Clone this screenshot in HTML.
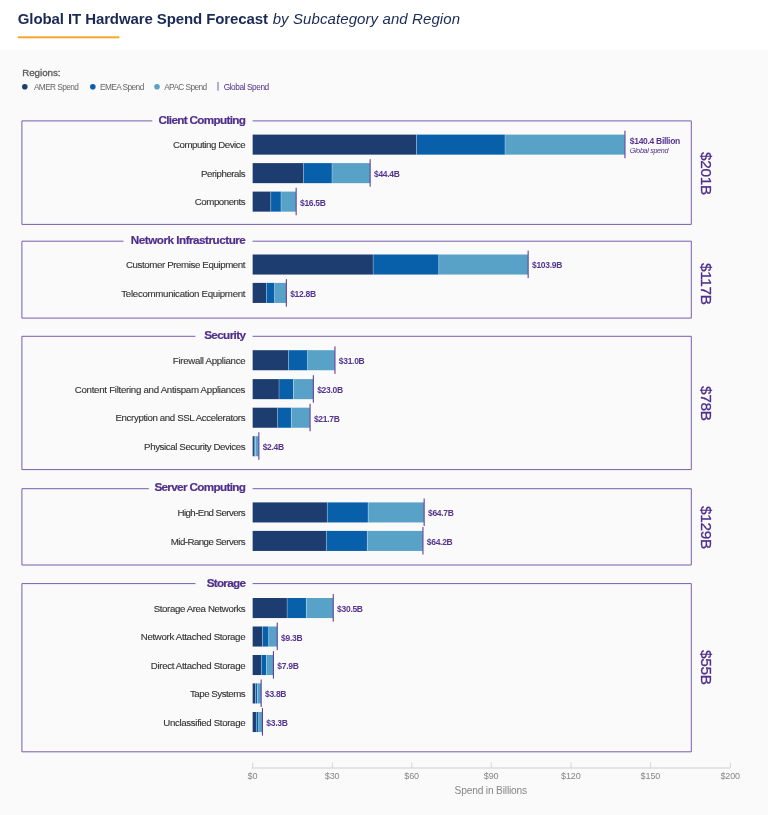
<!DOCTYPE html>
<html lang="en"><head><meta charset="utf-8"><title>Global IT Hardware Spend Forecast</title>
<style>
*{margin:0;padding:0;box-sizing:border-box}
html,body{width:768px;height:815px;overflow:hidden;background:#fafafa;font-family:"Liberation Sans",sans-serif}
body{filter:blur(0.35px)}
.hdr{position:absolute;left:0;top:0;width:768px;height:49px;background:#fff}
.a{position:absolute;white-space:pre;line-height:1}
.sv{position:absolute;left:0;top:0}
.title{top:10.4px;font-size:15px;color:#1b2a55;line-height:18px}
.ul{position:absolute;left:18px;top:36px;width:101.5px;height:2px;background:#f5a623}
.reg{font-size:9.8px;color:#5a5a5a;-webkit-text-stroke:0.3px #5a5a5a}
.lg{font-size:8.3px;color:#666}
.dot{position:absolute;width:5.8px;height:5.8px;border-radius:50%;top:83.9px}
.box{position:absolute;left:21.5px;width:670.3px;border:1px solid #765eab;border-top:none}
.ln{position:absolute;height:1px;background:#765eab}
.gt{font-weight:bold;font-size:11.7px;color:#4f2f8b;-webkit-text-stroke:0.2px #4f2f8b}
.rl{font-size:9.7px;color:#333;-webkit-text-stroke:0.12px #333}
.seg{position:absolute;height:20.05px}
.mk{position:absolute;width:1.1px;background:#6445a0}
.vl{font-weight:bold;font-size:8.5px;color:#553591}
.gs{font-style:italic;font-size:7.2px;color:#4f2f8b}
.tot{font-size:15.4px;color:#4f2f8b;line-height:15px;transform-origin:0 0;transform:rotate(90deg);letter-spacing:-0.33px;-webkit-text-stroke:0.3px #4f2f8b}
.ax{position:absolute;background:#c9c9c9}
.tl{font-size:9px;color:#868686;width:40px;text-align:center;top:772.40px;letter-spacing:-0.1px}
.axt{font-size:10.2px;color:#868686}
</style></head>
<body>
<div class="hdr"></div>
<svg class="sv" width="768" height="815" viewBox="0 0 768 815"><rect x="0" y="48" width="768" height="1.5" fill="#fff"/><rect x="17.8" y="36.3" width="101.6" height="2" fill="#f7a72a"/><circle cx="24.8" cy="86.8" r="2.8" fill="#1d3c70"/><circle cx="92.8" cy="86.8" r="2.8" fill="#0860ab"/><circle cx="157.0" cy="86.8" r="2.8" fill="#58a2c8"/><rect x="217.5" y="82" width="1" height="8.7" fill="#765eab"/><path d="M152.3 120.9H21.9V224.4H691.3V120.9H252.6" fill="none" stroke="#765eab" stroke-width="1"/><rect x="252.65" y="134.6" width="163.85" height="20.05" fill="#1d3c70"/><rect x="416.50" y="134.6" width="88.50" height="20.05" fill="#0860ab"/><rect x="505.00" y="134.6" width="119.80" height="20.05" fill="#58a2c8"/><rect x="416.20" y="134.6" width="0.6" height="20.05" fill="#fff" fill-opacity=".5"/><rect x="504.70" y="134.6" width="0.6" height="20.05" fill="#fff" fill-opacity=".5"/><rect x="624.40" y="130.7" width="1.1" height="27.5" fill="#5f3f9c"/><rect x="252.65" y="163.1" width="50.95" height="20.05" fill="#1d3c70"/><rect x="303.60" y="163.1" width="28.40" height="20.05" fill="#0860ab"/><rect x="332.00" y="163.1" width="38.00" height="20.05" fill="#58a2c8"/><rect x="303.30" y="163.1" width="0.6" height="20.05" fill="#fff" fill-opacity=".5"/><rect x="331.70" y="163.1" width="0.6" height="20.05" fill="#fff" fill-opacity=".5"/><rect x="369.60" y="159.2" width="1.1" height="27.5" fill="#5f3f9c"/><rect x="252.65" y="191.6" width="18.15" height="20.05" fill="#1d3c70"/><rect x="270.80" y="191.6" width="10.20" height="20.05" fill="#0860ab"/><rect x="281.00" y="191.6" width="15.00" height="20.05" fill="#58a2c8"/><rect x="270.50" y="191.6" width="0.6" height="20.05" fill="#fff" fill-opacity=".5"/><rect x="280.70" y="191.6" width="0.6" height="20.05" fill="#fff" fill-opacity=".5"/><rect x="295.60" y="187.7" width="1.1" height="27.5" fill="#5f3f9c"/><path d="M123.5 241.2H21.9V318.1H691.3V241.2H252.6" fill="none" stroke="#765eab" stroke-width="1"/><rect x="252.65" y="254.5" width="120.45" height="20.05" fill="#1d3c70"/><rect x="373.10" y="254.5" width="65.70" height="20.05" fill="#0860ab"/><rect x="438.80" y="254.5" width="89.20" height="20.05" fill="#58a2c8"/><rect x="372.80" y="254.5" width="0.6" height="20.05" fill="#fff" fill-opacity=".5"/><rect x="438.50" y="254.5" width="0.6" height="20.05" fill="#fff" fill-opacity=".5"/><rect x="527.60" y="250.6" width="1.1" height="27.5" fill="#5f3f9c"/><rect x="252.65" y="282.9" width="13.65" height="20.05" fill="#1d3c70"/><rect x="266.30" y="282.9" width="8.40" height="20.05" fill="#0860ab"/><rect x="274.70" y="282.9" width="11.50" height="20.05" fill="#58a2c8"/><rect x="266.00" y="282.9" width="0.6" height="20.05" fill="#fff" fill-opacity=".5"/><rect x="274.40" y="282.9" width="0.6" height="20.05" fill="#fff" fill-opacity=".5"/><rect x="285.80" y="279.1" width="1.1" height="27.5" fill="#5f3f9c"/><path d="M195.4 336.3H21.9V469.6H691.3V336.3H252.6" fill="none" stroke="#765eab" stroke-width="1"/><rect x="252.65" y="350.2" width="35.65" height="20.05" fill="#1d3c70"/><rect x="288.30" y="350.2" width="19.40" height="20.05" fill="#0860ab"/><rect x="307.70" y="350.2" width="27.10" height="20.05" fill="#58a2c8"/><rect x="288.00" y="350.2" width="0.6" height="20.05" fill="#fff" fill-opacity=".5"/><rect x="307.40" y="350.2" width="0.6" height="20.05" fill="#fff" fill-opacity=".5"/><rect x="334.40" y="346.4" width="1.1" height="27.5" fill="#5f3f9c"/><rect x="252.65" y="379.1" width="26.35" height="20.05" fill="#1d3c70"/><rect x="279.00" y="379.1" width="14.30" height="20.05" fill="#0860ab"/><rect x="293.30" y="379.1" width="19.90" height="20.05" fill="#58a2c8"/><rect x="278.70" y="379.1" width="0.6" height="20.05" fill="#fff" fill-opacity=".5"/><rect x="293.00" y="379.1" width="0.6" height="20.05" fill="#fff" fill-opacity=".5"/><rect x="312.80" y="375.2" width="1.1" height="27.5" fill="#5f3f9c"/><rect x="252.65" y="407.7" width="25.05" height="20.05" fill="#1d3c70"/><rect x="277.70" y="407.7" width="13.55" height="20.05" fill="#0860ab"/><rect x="291.25" y="407.7" width="18.65" height="20.05" fill="#58a2c8"/><rect x="277.40" y="407.7" width="0.6" height="20.05" fill="#fff" fill-opacity=".5"/><rect x="290.95" y="407.7" width="0.6" height="20.05" fill="#fff" fill-opacity=".5"/><rect x="309.50" y="403.8" width="1.1" height="27.5" fill="#5f3f9c"/><rect x="252.65" y="436.2" width="1.55" height="20.05" fill="#1d3c70"/><rect x="254.20" y="436.2" width="1.10" height="20.05" fill="#0860ab"/><rect x="255.30" y="436.2" width="3.40" height="20.05" fill="#58a2c8"/><rect x="253.90" y="436.2" width="0.6" height="20.05" fill="#fff" fill-opacity=".5"/><rect x="255.00" y="436.2" width="0.6" height="20.05" fill="#fff" fill-opacity=".5"/><rect x="258.30" y="432.3" width="1.1" height="27.5" fill="#5f3f9c"/><path d="M148.8 488.7H21.9V565.0H691.3V488.7H252.6" fill="none" stroke="#765eab" stroke-width="1"/><rect x="252.65" y="502.4" width="74.55" height="20.05" fill="#1d3c70"/><rect x="327.20" y="502.4" width="40.90" height="20.05" fill="#0860ab"/><rect x="368.10" y="502.4" width="55.90" height="20.05" fill="#58a2c8"/><rect x="326.90" y="502.4" width="0.6" height="20.05" fill="#fff" fill-opacity=".5"/><rect x="367.80" y="502.4" width="0.6" height="20.05" fill="#fff" fill-opacity=".5"/><rect x="423.60" y="498.5" width="1.1" height="27.5" fill="#5f3f9c"/><rect x="252.65" y="530.9" width="73.60" height="20.05" fill="#1d3c70"/><rect x="326.25" y="530.9" width="40.95" height="20.05" fill="#0860ab"/><rect x="367.20" y="530.9" width="55.60" height="20.05" fill="#58a2c8"/><rect x="325.95" y="530.9" width="0.6" height="20.05" fill="#fff" fill-opacity=".5"/><rect x="366.90" y="530.9" width="0.6" height="20.05" fill="#fff" fill-opacity=".5"/><rect x="422.40" y="527.0" width="1.1" height="27.5" fill="#5f3f9c"/><path d="M195.4 583.6H21.9V751.8H691.3V583.6H252.6" fill="none" stroke="#765eab" stroke-width="1"/><rect x="252.65" y="598.0" width="34.45" height="20.05" fill="#1d3c70"/><rect x="287.10" y="598.0" width="19.15" height="20.05" fill="#0860ab"/><rect x="306.25" y="598.0" width="26.85" height="20.05" fill="#58a2c8"/><rect x="286.80" y="598.0" width="0.6" height="20.05" fill="#fff" fill-opacity=".5"/><rect x="305.95" y="598.0" width="0.6" height="20.05" fill="#fff" fill-opacity=".5"/><rect x="332.70" y="594.1" width="1.1" height="27.5" fill="#5f3f9c"/><rect x="252.65" y="626.5" width="9.85" height="20.05" fill="#1d3c70"/><rect x="262.50" y="626.5" width="6.25" height="20.05" fill="#0860ab"/><rect x="268.75" y="626.5" width="8.35" height="20.05" fill="#58a2c8"/><rect x="262.20" y="626.5" width="0.6" height="20.05" fill="#fff" fill-opacity=".5"/><rect x="268.45" y="626.5" width="0.6" height="20.05" fill="#fff" fill-opacity=".5"/><rect x="276.70" y="622.6" width="1.1" height="27.5" fill="#5f3f9c"/><rect x="252.65" y="655.0" width="8.60" height="20.05" fill="#1d3c70"/><rect x="261.25" y="655.0" width="5.25" height="20.05" fill="#0860ab"/><rect x="266.50" y="655.0" width="6.80" height="20.05" fill="#58a2c8"/><rect x="260.95" y="655.0" width="0.6" height="20.05" fill="#fff" fill-opacity=".5"/><rect x="266.20" y="655.0" width="0.6" height="20.05" fill="#fff" fill-opacity=".5"/><rect x="272.90" y="651.1" width="1.1" height="27.5" fill="#5f3f9c"/><rect x="252.65" y="683.4" width="2.75" height="20.05" fill="#1d3c70"/><rect x="255.40" y="683.4" width="2.10" height="20.05" fill="#0860ab"/><rect x="257.50" y="683.4" width="3.50" height="20.05" fill="#58a2c8"/><rect x="255.10" y="683.4" width="0.6" height="20.05" fill="#fff" fill-opacity=".5"/><rect x="257.20" y="683.4" width="0.6" height="20.05" fill="#fff" fill-opacity=".5"/><rect x="260.60" y="679.5" width="1.1" height="27.5" fill="#5f3f9c"/><rect x="252.65" y="712.0" width="3.60" height="20.05" fill="#1d3c70"/><rect x="256.25" y="712.0" width="2.50" height="20.05" fill="#0860ab"/><rect x="258.75" y="712.0" width="3.55" height="20.05" fill="#58a2c8"/><rect x="255.95" y="712.0" width="0.6" height="20.05" fill="#fff" fill-opacity=".5"/><rect x="258.45" y="712.0" width="0.6" height="20.05" fill="#fff" fill-opacity=".5"/><rect x="261.90" y="708.1" width="1.1" height="27.5" fill="#5f3f9c"/><rect x="251.8" y="767.5" width="478.7" height="1" fill="#cdcdcd"/><rect x="252.2" y="762.6" width="1" height="5.4" fill="#d6d6d6"/><rect x="331.8" y="762.6" width="1" height="5.4" fill="#d6d6d6"/><rect x="411.3" y="762.6" width="1" height="5.4" fill="#d6d6d6"/><rect x="490.8" y="762.6" width="1" height="5.4" fill="#d6d6d6"/><rect x="570.5" y="762.6" width="1" height="5.4" fill="#d6d6d6"/><rect x="650.1" y="762.6" width="1" height="5.4" fill="#d6d6d6"/><rect x="729.9" y="762.6" width="1" height="5.4" fill="#d6d6d6"/></svg>
<div class="a title" style="left:17.80px"><b style="letter-spacing:-0.098px">Global IT Hardware Spend Forecast</b></div>
<div class="a title" style="left:272.70px"><i style="letter-spacing:0.092px">by Subcategory and Region</i></div>
<div class="a reg" style="left:22.20px;letter-spacing:-0.052px;top:68.40px;">Regions:</div>
<div class="a lg" style="left:33.90px;letter-spacing:-0.589px;top:83.10px;">AMER Spend</div>
<div class="a lg" style="left:100.00px;letter-spacing:-0.565px;top:83.10px;">EMEA Spend</div>
<div class="a lg" style="left:164.20px;letter-spacing:-0.601px;top:83.10px;">APAC Spend</div>
<div class="a lg" style="left:223.70px;letter-spacing:-0.436px;color:#4f2f8b;top:83.10px;">Global Spend</div>
<div class="a gt" style="left:158.50px;letter-spacing:-0.664px;top:114.05px;">Client Computing</div>
<div class="a tot" style="left:714.0px;top:151.81px">$201B</div>
<div class="a rl" style="left:172.90px;letter-spacing:-0.430px;top:140.30px;">Computing Device</div>
<div class="a vl" style="left:629.80px;letter-spacing:-0.300px;top:137.40px;">$140.4 Billion</div>
<div class="a gs" style="left:629.80px;letter-spacing:-0.339px;top:147.30px;">Global spend</div>
<div class="a rl" style="left:201.00px;letter-spacing:-0.438px;top:168.80px;">Peripherals</div>
<div class="a vl" style="left:374.00px;letter-spacing:-0.300px;top:170.00px;">$44.4B</div>
<div class="a rl" style="left:194.80px;letter-spacing:-0.455px;top:197.30px;">Components</div>
<div class="a vl" style="left:300.00px;letter-spacing:-0.300px;top:198.50px;">$16.5B</div>
<div class="a gt" style="left:130.80px;letter-spacing:-0.490px;top:234.05px;">Network Infrastructure</div>
<div class="a tot" style="left:714.0px;top:263.25px">$117B</div>
<div class="a rl" style="left:126.00px;letter-spacing:-0.388px;top:260.20px;">Customer Premise Equipment</div>
<div class="a vl" style="left:532.00px;letter-spacing:-0.300px;top:261.40px;">$103.9B</div>
<div class="a rl" style="left:121.30px;letter-spacing:-0.297px;top:288.70px;">Telecommunication Equipment</div>
<div class="a vl" style="left:290.20px;letter-spacing:-0.300px;top:289.90px;">$12.8B</div>
<div class="a gt" style="left:204.20px;letter-spacing:-0.622px;top:329.05px;">Security</div>
<div class="a tot" style="left:714.0px;top:385.92px">$78B</div>
<div class="a rl" style="left:172.80px;letter-spacing:-0.311px;top:356.00px;">Firewall Appliance</div>
<div class="a vl" style="left:338.80px;letter-spacing:-0.300px;top:357.20px;">$31.0B</div>
<div class="a rl" style="left:74.80px;letter-spacing:-0.284px;top:384.80px;">Content Filtering and Antispam Appliances</div>
<div class="a vl" style="left:317.20px;letter-spacing:-0.300px;top:386.00px;">$23.0B</div>
<div class="a rl" style="left:115.50px;letter-spacing:-0.376px;top:413.40px;">Encryption and SSL Accelerators</div>
<div class="a vl" style="left:313.90px;letter-spacing:-0.300px;top:414.60px;">$21.7B</div>
<div class="a rl" style="left:144.10px;letter-spacing:-0.394px;top:441.90px;">Physical Security Devices</div>
<div class="a vl" style="left:262.70px;letter-spacing:-0.300px;top:443.10px;">$2.4B</div>
<div class="a gt" style="left:154.40px;letter-spacing:-0.656px;top:481.35px;">Server Computing</div>
<div class="a tot" style="left:714.0px;top:505.51px">$129B</div>
<div class="a rl" style="left:177.50px;letter-spacing:-0.556px;top:508.10px;">High-End Servers</div>
<div class="a vl" style="left:428.00px;letter-spacing:-0.300px;top:509.30px;">$64.7B</div>
<div class="a rl" style="left:170.80px;letter-spacing:-0.542px;top:536.70px;">Mid-Range Servers</div>
<div class="a vl" style="left:426.80px;letter-spacing:-0.300px;top:537.90px;">$64.2B</div>
<div class="a gt" style="left:206.70px;letter-spacing:-0.714px;top:576.65px;">Storage</div>
<div class="a tot" style="left:714.0px;top:650.32px">$55B</div>
<div class="a rl" style="left:153.75px;letter-spacing:-0.391px;top:603.80px;">Storage Area Networks</div>
<div class="a vl" style="left:337.10px;letter-spacing:-0.300px;top:605.00px;">$30.5B</div>
<div class="a rl" style="left:140.80px;letter-spacing:-0.340px;top:632.30px;">Network Attached Storage</div>
<div class="a vl" style="left:281.10px;letter-spacing:-0.300px;top:633.50px;">$9.3B</div>
<div class="a rl" style="left:150.80px;letter-spacing:-0.342px;top:660.80px;">Direct Attached Storage</div>
<div class="a vl" style="left:277.30px;letter-spacing:-0.300px;top:662.00px;">$7.9B</div>
<div class="a rl" style="left:190.00px;letter-spacing:-0.474px;top:689.20px;">Tape Systems</div>
<div class="a vl" style="left:265.00px;letter-spacing:-0.300px;top:690.40px;">$3.8B</div>
<div class="a rl" style="left:163.30px;letter-spacing:-0.345px;top:717.80px;">Unclassified Storage</div>
<div class="a vl" style="left:266.30px;letter-spacing:-0.300px;top:719.00px;">$3.3B</div>
<div class="a tl" style="left:232.5px">$0</div>
<div class="a tl" style="left:312.1px">$30</div>
<div class="a tl" style="left:391.6px">$60</div>
<div class="a tl" style="left:471.1px">$90</div>
<div class="a tl" style="left:550.8px">$120</div>
<div class="a tl" style="left:630.4px">$150</div>
<div class="a tl" style="left:710.2px">$200</div>
<div class="a axt" style="left:454.50px;letter-spacing:-0.164px;top:786.00px;">Spend in Billions</div>
</body></html>
